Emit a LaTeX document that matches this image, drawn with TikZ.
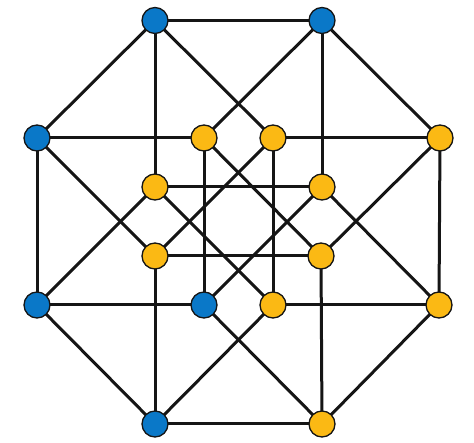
\documentclass[tikz,border=0pt]{standalone}
\usetikzlibrary{backgrounds}
\definecolor{vblue}{HTML}{0A78C8}
\definecolor{vyellow}{HTML}{FBB914}
\definecolor{edgec}{HTML}{151515}
\tikzset{
  vtx/.style={circle, draw=edgec, line width=1.3pt, minimum size=26pt, inner sep=0pt},
  bv/.style={vtx, fill=vblue},
  yv/.style={vtx, fill=vyellow},
  edge/.style={draw=edgec, line width=3pt}
}
\begin{document}
\begin{tikzpicture}[x=1pt,y=-1pt]
\useasboundingbox (0,0) rectangle (474,443);
% outer
\node[bv] (A) at (155,20.5) {};
\node[bv] (B) at (322,20.5) {};
\node[bv] (C) at (37,138) {};
\node[yv] (D) at (440,138) {};
\node[bv] (E) at (37,305) {};
\node[yv] (F) at (439,305) {};
\node[bv] (G) at (155,424) {};
\node[yv] (H) at (322,424) {};
% inner
\node[yv] (I) at (204,138) {};
\node[yv] (J) at (273,138) {};
\node[yv] (K) at (155,187) {};
\node[yv] (L) at (322,187) {};
\node[yv] (M) at (155,256) {};
\node[yv] (N) at (321,256) {};
\node[bv] (O) at (204,305) {};
\node[yv] (P) at (273,305) {};
\begin{pgfonlayer}{background}
\fill[white] (0,0) rectangle (474,443);
\foreach \a/\b in {A/B,A/C,A/K,A/J,B/I,B/L,B/D,C/I,C/E,C/M,D/J,D/F,D/N,
  I/O,I/N,J/M,J/P,K/L,K/E,K/P,L/O,L/F,M/N,M/G,N/H,E/O,E/G,P/F,P/G,O/H,F/H,G/H}
  \draw[edge] (\a.center) -- (\b.center);
\end{pgfonlayer}
\end{tikzpicture}
\end{document}
